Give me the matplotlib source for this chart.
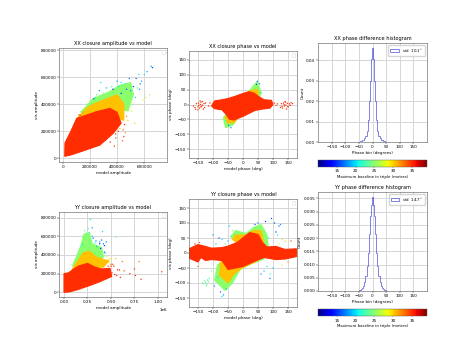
import matplotlib
matplotlib.use("Agg")
import matplotlib.pyplot as plt
from matplotlib.cm import ScalarMappable
from matplotlib.colors import Normalize
from matplotlib.patches import Rectangle
from matplotlib.ticker import MultipleLocator

# dense parts of the clouds, outlines; (x, y, baseline)
xx_amp_green_x = [130000, 180000, 220000, 340000, 420000, 500000, 520000, 480000, 350000]
xx_amp_green_y = [340000, 390000, 440000, 490000, 540000, 560000, 470000, 350000, 380000]
xx_amp_orange_x = [100000, 200000, 300000, 400000, 450000, 450000, 400000]
xx_amp_orange_y = [290000, 390000, 430000, 470000, 400000, 280000, 300000]
xx_amp_red_x = [15000, 60000, 150000, 274000, 372000, 430000, 400000, 348000, 250000, 103000, 60000, 17000]
xx_amp_red_y = [15000, 25000, 55000, 98000, 185000, 260000, 340000, 369000, 345000, 295000, 200000, 113000]
xx_amp_pts_x = [650000, 620000, 660000, 600000, 640000, 590000, 520000, 500000, 470000, 530000,
                430000, 400000, 370000, 280000, 270000, 250000, 230000, 210000, 180000, 150000,
                130000, 110000, 330000, 350000, 440000, 460000, 480000, 510000, 420000, 390000,
                560000, 570000, 610000, 760000, 430000, 450000, 380000, 540000, 550000, 580000,
                490000, 460000, 410000, 360000, 320000, 300000, 240000, 200000, 160000, 120000,
                470000, 455000, 500000, 410000, 390000, 520000, 535000, 565000, 480000, 445000]
xx_amp_pts_y = [680000, 640000, 670000, 620000, 470000, 430000, 530000, 500000, 510000, 260000,
                560000, 570000, 510000, 560000, 500000, 470000, 440000, 400000, 400000, 340000,
                320000, 290000, 160000, 120000, 130000, 190000, 280000, 350000, 220000, 150000,
                620000, 550000, 450000, 780000, 480000, 160000, 90000, 590000, 520000, 570000,
                590000, 550000, 530000, 530000, 520000, 480000, 450000, 420000, 370000, 320000,
                310000, 250000, 420000, 200000, 180000, 400000, 450000, 510000, 370000, 210000]
xx_amp_pts_c = [18, 18, 16, 20, 26, 28, 15, 18, 16, 30,
                20, 18, 14, 20, 18, 24, 16, 22, 24, 32,
                34, 35, 34, 35, 33, 32, 30, 28, 31, 34,
                20, 17, 27, 25, 15, 35, 35, 16, 22, 19,
                17, 21, 20, 23, 19, 24, 22, 28, 30, 35,
                32, 35, 27, 35, 35, 24, 20, 18, 30, 34]

xx_ph_green_x = [-58, -66, -30, 20, 48, 60, 56, 20, -20, -35]
xx_ph_green_y = [-78, -45, 0, 45, 78, 40, 25, -10, -50, -70]
xx_ph_orange_x = [-52, -60, -30, 0, 25, 50, 52, 20, -20, -30]
xx_ph_orange_y = [-62, -40, -30, 30, 47, 50, 25, -10, -48, -62]
xx_ph_red_x = [-105, -95, -70, -50, -25, 0, 20, 38, 50, 70, 95, 100,
               90, 60, 40, 20, 0, -30, -45, -55, -70, -95]
xx_ph_red_y = [-5, 12, 16, 20, 28, 37, 43, 38, 28, 16, 14, 0,
               -12, -16, -20, -30, -40, -52, -50, -35, -18, -14]
xx_ph_pts_x = [-165, -160, -155, -150, -148, -145, -142, -140, -138, -135, -130, -128, -125, -158, -150, -143, -135, -132,
               -147, -140, 125, 128, 132, 135, 138, 140, 143, 145, 148, 150, 155, 160, 165, 130, 137, 142, 150, 158,
               -115, -110, 105, 110, 115, 55, 60, 48, -48, -60, 45, -40]
xx_ph_pts_y = [-5, -10, 3, -8, 5, -12, 0, 8, -6, -2, 3, -10, 5, -16, -18, 12, 10, -15,
               -3, -8, -10, 3, -12, 5, -5, 10, -2, -15, 4, -8, 2, 6, 3, -6, 0, 8, -6, -3,
               -5, 5, 5, -3, 2, 70, 40, 78, -70, -55, 68, -78]
xx_ph_pts_c = [35] * 43 + [18, 20, 17, 17, 22, 16, 18]

yy_amp_green_x = [90000, 140000, 180000, 210000, 270000, 300000, 400000, 420000, 360000, 200000]
yy_amp_green_y = [280000, 400000, 500000, 620000, 640000, 520000, 480000, 380000, 300000, 280000]
yy_amp_orange_x = [90000, 150000, 200000, 270000, 340000, 440000, 480000, 420000, 200000]
yy_amp_orange_y = [250000, 340000, 420000, 440000, 380000, 345000, 340000, 270000, 260000]
yy_amp_red_x = [0, 60000, 150000, 280000, 383000, 507000, 490000, 400000, 330000, 250000, 150000, 90000, 50000, 0]
yy_amp_red_y = [0, 5000, 30000, 75000, 114000, 170000, 257000, 250000, 270000, 310000, 280000, 240000, 210000, 200000]
yy_amp_pts_x = [1040000, 820000, 800000, 750000, 760000, 700000, 640000, 620000, 590000, 550000,
                520000, 500000, 560000, 600000, 480000, 450000, 430000, 410000, 400000, 380000,
                340000, 300000, 270000, 240000, 210000, 280000, 430000, 390000, 350000, 310000,
                200000, 180000, 460000, 470000, 300000, 550000, 530000, 570000, 510000, 540000,
                440000, 420000, 380000, 330000, 260000, 220000, 460000, 490000, 500000, 470000]
yy_amp_pts_y = [220000, 140000, 330000, 250000, 180000, 200000, 230000, 330000, 240000, 360000,
                300000, 280000, 180000, 160000, 320000, 540000, 500000, 650000, 560000, 520000,
                550000, 600000, 640000, 620000, 590000, 780000, 430000, 470000, 490000, 580000,
                510000, 490000, 230000, 350000, 690000, 590000, 280000, 240000, 210000, 190000,
                420000, 520000, 540000, 530000, 680000, 660000, 380000, 360000, 300000, 280000]
yy_amp_pts_c = [35, 35, 33, 35, 35, 35, 34, 33, 35, 31,
                34, 35, 35, 35, 29, 18, 16, 20, 17, 15,
                18, 20, 22, 23, 22, 20, 16, 15, 19, 16,
                20, 22, 35, 28, 18, 24, 35, 35, 35, 35,
                20, 17, 19, 21, 24, 23, 27, 30, 33, 35]

yy_ph_green_x = [-85, -95, -60, -35, -10, 30, 70, 85, 80, 60, 35, 10, -25, -40, -20, -60]
yy_ph_green_y = [-40, -90, -125, -100, -55, -35, -20, 10, 60, 95, 85, 65, 75, 55, 35, -20]
yy_ph_orange_x = [-75, -78, -50, -30, 0, 40, 65, 72, 60, 35, 10, -25, -35, -15, -55]
yy_ph_orange_y = [-30, -75, -100, -70, -48, -30, -15, 20, 75, 75, 60, 60, 45, 30, -20]
yy_ph_red_x = [-178, -178, -150, -125, -105, -70, -50, -20, 22, 50, 65, 80, 110, 140, 178,
               178, 140, 110, 70, 40, 0, -50, -70, -105, -125, -140, -150]
yy_ph_red_y = [-18, 15, 28, 22, 16, 18, 23, 35, 68, 62, 35, 20, 22, 12, 14,
               -12, -20, -22, -15, -27, -45, -55, -25, -22, -25, -15, -30]
yy_ph_pts_x = [-130, -125, -120, -115, -128, -122, -118, -135, -112, -160, -105, -95, -85, -75, -65, -55, -70, -50, -40,
               -100, -90, -80, 90, 100, 110, 120, 105, 115, 125, 130, 85, 95, 75, 80, 70, 60, 130, 140, 150, 120, 90,
               -150, -145, 160, -70, -60, -35, -45, 50, 40]
yy_ph_pts_y = [-102, -98, -105, -95, -92, -110, -90, -100, -85, 30, -60, -110, -80, -130, -140, -120, 45, 40, 55,
               60, 30, 50, -70, -50, 70, 90, 100, 60, 95, 45, 50, 115, 105, -45, -60, -70, -40, 40, -30, 30, -85,
               -45, 35, 40, -145, 30, 75, 90, 100, 95]
yy_ph_pts_c = [23, 23, 24, 23, 24, 23, 22, 24, 23, 35, 24, 18, 20, 17, 18, 19, 20, 19, 22,
               18, 20, 16, 21, 19, 15, 17, 16, 20, 18, 27, 22, 16, 15, 20, 19, 18, 27, 30, 31, 28, 17,
               33, 34, 34, 20, 23, 25, 20, 18, 16]

phase_bins = [-62, -58, -54, -50, -46, -42, -38, -34, -30, -26, -22, -18, -14, -10, -6, -2,
              2, 6, 10, 14, 18, 22, 26, 30, 34, 38, 42, 46, 50, 54, 58, 62]
xx_hist = [0, .00005, .0001, .0002, .0003, .0005, .0008, .0012, .002, .003, .0055, .0105, .02, .03, .0405, .046,
           .0405, .03, .02, .0105, .0055, .003, .002, .0012, .0008, .0005, .0003, .0002, .0001, .00005, 0]
yy_hist = [0, .00005, .0001, .0002, .0004, .0007, .0012, .002, .0035, .0058, .0095, .0145, .0215, .0285, .0325, .0355,
           .0325, .0285, .0215, .0145, .0095, .0058, .0035, .002, .0012, .0007, .0004, .0002, .0001, .00005, 0]

plt.rcParams["font.size"] = 3
plt.rcParams["axes.linewidth"] = 0.4
plt.rcParams["axes.edgecolor"] = "#555555"
plt.rcParams["xtick.major.size"] = 1.1
plt.rcParams["ytick.major.size"] = 1.1
plt.rcParams["xtick.major.width"] = 0.3
plt.rcParams["ytick.major.width"] = 0.3
plt.rcParams["xtick.major.pad"] = 1
plt.rcParams["ytick.major.pad"] = 1
plt.rcParams["axes.labelpad"] = 1.2
plt.rcParams["axes.titlepad"] = 2
plt.rcParams["axes.titlesize"] = 3.6
plt.rcParams["axes.labelsize"] = 3

W, H = 474, 355
fig = plt.figure(figsize=(W / 100, H / 100), dpi=100)
norm = Normalize(10, 39)
cmap = plt.get_cmap("jet")


def new_axes(left, top, right, bottom):
    return fig.add_axes([left / W, 1 - bottom / H, (right - left) / W, (bottom - top) / H])


def cloud(ax, green_x, green_y, orange_x, orange_y, red_x, red_y, pts_x, pts_y, pts_c):
    ax.fill(green_x, green_y, color=cmap(norm(25)), lw=0.8, zorder=2)
    ax.fill(orange_x, orange_y, color=cmap(norm(30.5)), lw=0.8, zorder=2.1)
    ax.fill(red_x, red_y, color=cmap(norm(35)), lw=0.8, zorder=2.2)
    ax.scatter(pts_x, pts_y, c=pts_c, cmap=cmap, norm=norm, s=1, lw=0, zorder=2.3)
    ax.grid(color="#d6d6d6", lw=0.7)
    ax.set_axisbelow(True)
    # the empty legend box of the original
    ax.add_patch(Rectangle((0.955, 0.945), 0.03, 0.04, transform=ax.transAxes, fc="white", ec="#dddddd", lw=0.4, zorder=3))


ax = new_axes(59, 48, 167, 162)
cloud(ax, xx_amp_green_x, xx_amp_green_y, xx_amp_orange_x, xx_amp_orange_y, xx_amp_red_x, xx_amp_red_y,
      xx_amp_pts_x, xx_amp_pts_y, xx_amp_pts_c)
ax.set_xlim(-27000, 767000)
ax.set_ylim(-27000, 815000)
ax.set_xticks([0, 200000, 400000, 600000])
ax.set_yticks([0, 200000, 400000, 600000, 800000])
ax.set_xlabel("model amplitude")
ax.set_ylabel("vis amplitude")
ax.set_title("XX closure amplitude vs model")

ax = new_axes(59, 212, 167, 297)
cloud(ax, yy_amp_green_x, yy_amp_green_y, yy_amp_orange_x, yy_amp_orange_y, yy_amp_red_x, yy_amp_red_y,
      yy_amp_pts_x, yy_amp_pts_y, yy_amp_pts_c)
ax.set_xlim(-53000, 1096000)
ax.set_ylim(-50000, 860000)
ax.xaxis.set_major_locator(MultipleLocator(250000))
ax.set_yticks([0, 200000, 400000, 600000, 800000])
ax.xaxis.get_offset_text().set_size(3)
ax.set_xlabel("model amplitude")
ax.set_ylabel("vis amplitude")
ax.set_title("YY closure amplitude vs model")

for top, bottom, pol, arrays in [
    (51, 158, "XX", (xx_ph_green_x, xx_ph_green_y, xx_ph_orange_x, xx_ph_orange_y, xx_ph_red_x, xx_ph_red_y,
                     xx_ph_pts_x, xx_ph_pts_y, xx_ph_pts_c)),
    (199, 307, "YY", (yy_ph_green_x, yy_ph_green_y, yy_ph_orange_x, yy_ph_orange_y, yy_ph_red_x, yy_ph_red_y,
                      yy_ph_pts_x, yy_ph_pts_y, yy_ph_pts_c)),
]:
    ax = new_axes(189, top, 297, bottom)
    cloud(ax, *arrays)
    ax.set_xlim(-180, 180)
    ax.set_ylim(-180, 180)
    ax.set_xticks([-150, -100, -50, 0, 50, 100, 150])
    ax.set_yticks([-150, -100, -50, 0, 50, 100, 150])
    ax.set_xlabel("model phase (deg)")
    ax.set_ylabel("vis phase (deg)")
    ax.set_title(pol + " closure phase vs model")

for top, bottom, pol, values, ymax, yticks, label, cb_top, cb_bottom in [
    (43, 142, "XX", xx_hist, 0.0483, [0, .01, .02, .03, .04], "std: 10.1$^\\circ$", 160, 167),
    (192, 291, "YY", yy_hist, 0.0374, [0, .005, .01, .015, .02, .025, .03, .035], "std: 14.7$^\\circ$", 309, 316),
]:
    ax = new_axes(318, top, 427, bottom)
    ax.hist(phase_bins[:-1], bins=phase_bins, weights=values, histtype="step", color="#3030d0", lw=0.6, alpha=0.7, label=label)
    ax.set_xlim(-201, 201)
    ax.set_ylim(0, ymax)
    ax.set_xticks([-150, -100, -50, 0, 50, 100, 150])
    ax.set_yticks(yticks)
    ax.grid(color="#d6d6d6", lw=0.7)
    ax.set_axisbelow(True)
    ax.set_xlabel("Phase bin (degrees)")
    ax.set_ylabel("Count")
    ax.set_title(pol + " phase difference histogram")
    ax.legend(loc="upper right", fontsize=2.8, frameon=True, borderpad=0.5, handlelength=2.2)

    cax = new_axes(318, cb_top, 427, cb_bottom)
    cb = fig.colorbar(ScalarMappable(norm=norm, cmap=cmap), cax=cax, orientation="horizontal")
    cb.set_ticks([15, 20, 25, 30, 35])
    cb.outline.set_linewidth(0.3)
    cb.ax.tick_params(length=0.8, width=0.2)
    cb.set_label("Maximum baseline in triple (metres)", size=2.8, labelpad=1)

fig.savefig("out.png", dpi=100)
